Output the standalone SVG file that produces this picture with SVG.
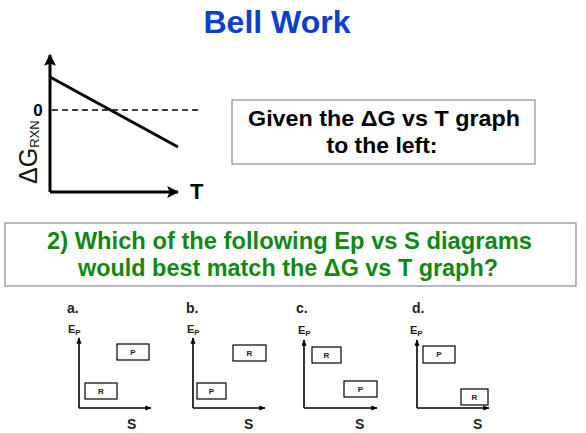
<svg xmlns="http://www.w3.org/2000/svg" width="586" height="433" viewBox="0 0 586 433">
<style>
.t{font-family:"Liberation Sans",Arial,sans-serif;font-weight:bold}
.box{fill:#fff;stroke:#7f8ea6;stroke-width:1.2}
.ax{fill:none;stroke:#000;stroke-width:3}
.sax{fill:none;stroke:#000;stroke-width:1.6}
.sb{fill:#fff;stroke:#000;stroke-width:1.2}
.lbl{font-family:"Liberation Sans",Arial,sans-serif;font-weight:bold;font-size:14px;fill:#222}
.ep{font-family:"Liberation Sans",Arial,sans-serif;font-weight:bold;font-size:11px;fill:#222}
.sl{font-family:"Liberation Sans",Arial,sans-serif;font-weight:bold;font-size:8px;fill:#222;text-anchor:middle}
</style>
<defs>
<marker id="ah" viewBox="0 0 10 10" refX="9" refY="5" markerWidth="4" markerHeight="4" orient="auto" markerUnits="strokeWidth">
<path d="M0,0 L10,5 L0,10 L2,5 Z" fill="#000"/>
</marker>
<marker id="sah" viewBox="0 0 10 10" refX="9" refY="5" markerWidth="4" markerHeight="4" orient="auto" markerUnits="strokeWidth">
<path d="M0,1 L10,5 L0,9 Z" fill="#000"/>
</marker>
</defs>
<rect width="586" height="433" fill="#fff"/>
<g id="title"><text class="t" x="277" y="33" font-size="32" fill="#0a3fd0" text-anchor="middle">Bell Work</text></g>

<g id="graph">
<line class="ax" x1="50" y1="192" x2="50" y2="55" marker-end="url(#ah)"/>
<line class="ax" x1="50" y1="192" x2="178" y2="192" marker-end="url(#ah)"/>
<line x1="50" y1="77" x2="178" y2="147" stroke="#000" stroke-width="3"/>
<line x1="52" y1="110" x2="199" y2="110" stroke="#000" stroke-width="1.6" stroke-dasharray="6,4"/>
<text class="t" x="38" y="116" font-size="17" text-anchor="middle">0</text>
<text class="t" x="190" y="199" font-size="22">T</text>
<text transform="translate(37,184) rotate(-90)" font-family="'Liberation Sans',Arial,sans-serif" font-size="25" fill="#111">ΔG<tspan font-size="13" dy="2">RXN</tspan></text>
</g>

<g id="given">
<rect class="box" x="232" y="100" width="303" height="64"/>
<text class="t" x="384" y="126" font-size="22" text-anchor="middle" textLength="272" lengthAdjust="spacingAndGlyphs">Given the ΔG vs T graph</text>
<text class="t" x="382" y="153" font-size="22" text-anchor="middle" textLength="111" lengthAdjust="spacingAndGlyphs">to the left:</text>
</g>

<g id="question">
<rect class="box" x="5" y="223" width="571" height="63"/>
<text class="t" x="289.5" y="249" font-size="23" fill="#118811" text-anchor="middle" textLength="485" lengthAdjust="spacingAndGlyphs">2) Which of the following Ep vs S diagrams</text>
<text class="t" x="288" y="276" font-size="23" fill="#118811" text-anchor="middle" textLength="420" lengthAdjust="spacingAndGlyphs">would best match the ΔG vs T graph?</text>
</g>

<g id="connectors">
<line class="sax" x1="79" y1="408" x2="79" y2="338" marker-end="url(#sah)"/>
<line class="sax" x1="79" y1="408" x2="151" y2="408" marker-end="url(#sah)"/>
<line class="sax" x1="193" y1="408" x2="193" y2="338" marker-end="url(#sah)"/>
<line class="sax" x1="193" y1="408" x2="265" y2="408" marker-end="url(#sah)"/>
<line class="sax" x1="304" y1="408" x2="304" y2="340" marker-end="url(#sah)"/>
<line class="sax" x1="304" y1="408" x2="377" y2="408" marker-end="url(#sah)"/>
<line class="sax" x1="417" y1="408" x2="417" y2="340" marker-end="url(#sah)"/>
<line class="sax" x1="417" y1="408" x2="489" y2="408" marker-end="url(#sah)"/>
</g>

<g id="diagram-a">
<text class="lbl" x="67" y="313">a.</text>
<text class="ep" x="68" y="333">E<tspan font-size="8" dy="2">P</tspan></text>
<rect class="sb" x="117" y="344" width="32" height="16"/><text class="sl" x="133" y="355">P</text>
<rect class="sb" x="85" y="383" width="32" height="16"/><text class="sl" x="101" y="394">R</text>
<text class="lbl" x="127" y="429" font-size="11">S</text>
</g>

<g id="diagram-b">
<text class="lbl" x="186" y="313">b.</text>
<text class="ep" x="187" y="333">E<tspan font-size="8" dy="2">P</tspan></text>
<rect class="sb" x="233" y="345" width="33" height="16"/><text class="sl" x="249.5" y="356">R</text>
<rect class="sb" x="197" y="383" width="29" height="16"/><text class="sl" x="211.5" y="394">P</text>
<text class="lbl" x="244" y="429" font-size="11">S</text>
</g>

<g id="diagram-c">
<text class="lbl" x="296" y="313">c.</text>
<text class="ep" x="298" y="334">E<tspan font-size="8" dy="2">P</tspan></text>
<rect class="sb" x="312" y="347" width="29" height="16"/><text class="sl" x="326.5" y="358">R</text>
<rect class="sb" x="344" y="381" width="33" height="16"/><text class="sl" x="360.5" y="392">P</text>
<text class="lbl" x="355" y="429" font-size="11">S</text>
</g>

<g id="diagram-d">
<text class="lbl" x="412" y="313">d.</text>
<text class="ep" x="410" y="334">E<tspan font-size="8" dy="2">P</tspan></text>
<rect class="sb" x="423" y="346" width="32" height="17"/><text class="sl" x="439" y="357">P</text>
<rect class="sb" x="461" y="389" width="27" height="16"/><text class="sl" x="474.5" y="400">R</text>
<text class="lbl" x="473" y="429" font-size="11">S</text>
</g>
</svg>
